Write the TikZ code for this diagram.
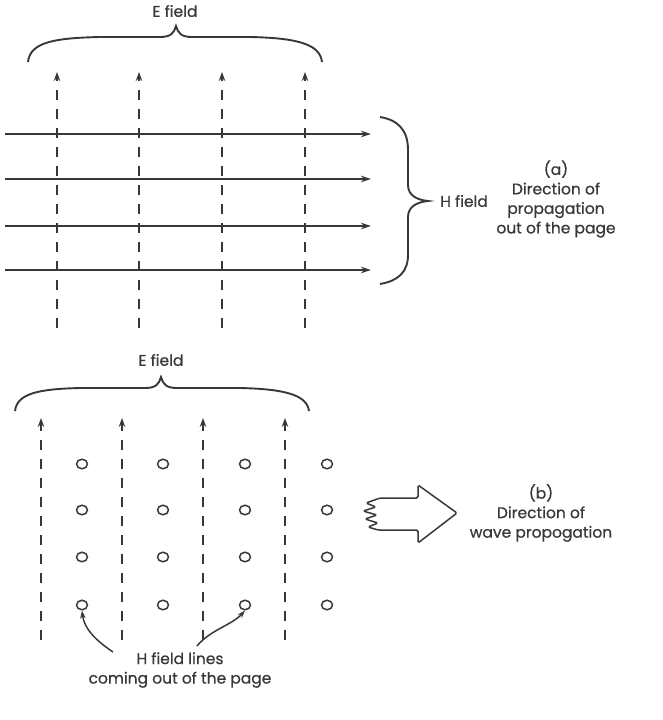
\documentclass[tikz,border=0pt]{standalone}
\usepackage{fontspec}
\setmainfont{Poppins}[FakeBold=0.6]
\usetikzlibrary{arrows.meta,shapes.geometric}
\definecolor{ink}{gray}{0.22}
\tikzset{
  lbl/.style={font=\fontsize{15.5}{19.5}\selectfont, text=ink, align=center, inner sep=0pt},
  eline/.style={draw=ink, line width=1.5pt, dash pattern=on 10pt off 9pt, -{Stealth[length=9pt,width=6.5pt]}},
  hline/.style={draw=ink, line width=1.7pt, -{Stealth[length=10pt,width=6.5pt]}},
  brace/.style={draw=ink, line width=1.9pt},
  hdot/.style={ellipse, draw=ink, line width=1.5pt, minimum width=11pt, minimum height=9.5pt, inner sep=0pt},
  callout/.style={draw=ink, line width=1.5pt, -{Stealth[length=8pt,width=5.5pt]}},
}
\begin{document}
\begin{tikzpicture}[x=1pt,y=-1pt]
\useasboundingbox (0,0) rectangle (662,720);
% ---------- (a) ----------
\node[lbl] (ef1) at (175,11) {E field};
\draw[brace] (28,62) .. controls (30,42) and (55,38) .. (100,37) -- (160,37) .. controls (171,37) and (174,33) .. (176,26) .. controls (178,33) and (181,37) .. (192,37) -- (250,37) .. controls (300,38) and (320,45) .. (322,62);
\foreach \x [count=\i] in {57,139,222,305}{
  \coordinate (ab\i) at (\x,328);
  \coordinate (at\i) at (\x,72);
  \draw[eline] (ab\i) -- (at\i);
}
\foreach \y [count=\i] in {134,179,226,270}{
  \coordinate (hl\i) at (5,\y);
  \coordinate (hr\i) at (371,\y);
  \draw[hline] (hl\i) -- (hr\i);
}
\draw[brace] (380,117) .. controls (398,120) and (408,130) .. (408,150) -- (408,185) .. controls (408,196) and (418,200) .. (428,201) .. controls (418,202) and (408,206) .. (408,217) -- (408,255) .. controls (408,272) and (398,281) .. (380,284);
\node[lbl, anchor=west] (hf) at (440,201) {H field};
\node[lbl] (da) at (556,199) {(a)\\Direction of\\propagation\\out of the page};
% ---------- (b) ----------
\node[lbl] (ef2) at (161,360) {E field};
\draw[brace] (15,411) .. controls (17,393) and (40,389) .. (80,388) -- (145,388) .. controls (156,388) and (159,384) .. (161,377) .. controls (163,384) and (166,388) .. (177,388) -- (240,388) .. controls (285,389) and (307,395) .. (309,411);
\foreach \x [count=\i] in {41,122,203,285}{
  \coordinate (bb\i) at (\x,640);
  \coordinate (bt\i) at (\x,418);
  \draw[eline] (bb\i) -- (bt\i);
}
\foreach \x [count=\i] in {82,163,245,327}{
  \foreach \y [count=\j] in {464,510,557,605}{
    \node[hdot] (c\i\j) at (\x,\y) {};
  }
}
\draw[draw=ink, line width=1.5pt, line join=round, rounded corners=1.5pt] (380,498) -- (418,498) -- (418,485) -- (457,513) -- (418,543) -- (418,530) -- (378,530)
  -- (368,527) -- (378,523) -- (365,519) -- (377,515) -- (363,511) -- (376,507) -- (366,503) -- cycle;
\node[lbl] (db) at (541,513) {(b)\\Direction of\\wave propogation};
\node[lbl] (hlines) at (180,670) {H field lines\\coming out of the page};
\coordinate (k1) at (113,652);
\coordinate (k2) at (197,646);
\draw[callout] (k1) .. controls (95,640) and (84,628) .. (c14.south);
\draw[callout] (k2) .. controls (210,630) and (232,625) .. (c34.south);
\end{tikzpicture}
\end{document}
